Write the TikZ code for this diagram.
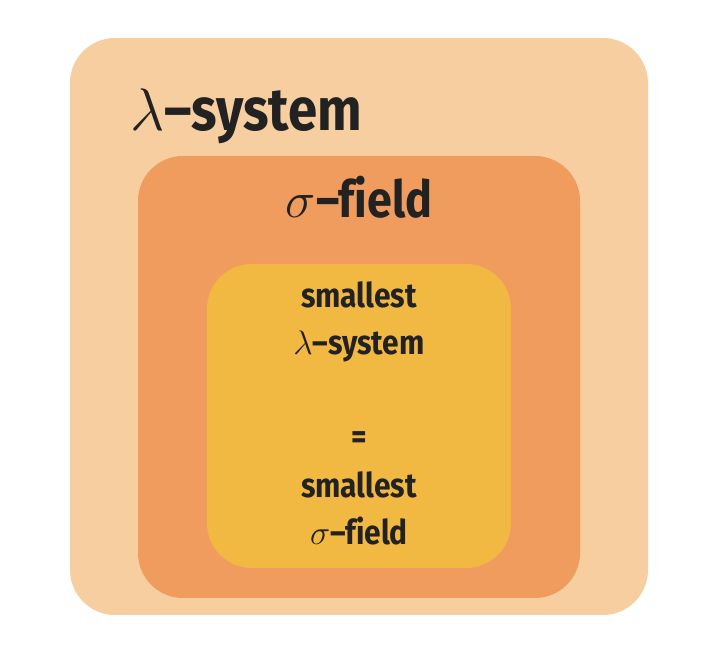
\documentclass[tikz,border=0pt]{standalone}
\usepackage{fix-cm}
\usepackage{fontspec}
\setmainfont[FakeStretch=0.88,Ligatures=NoCommon]{Fira Sans}
\usetikzlibrary{positioning}
\definecolor{outerc}{HTML}{F6CEA0}
\definecolor{midc}{HTML}{F09C5E}
\definecolor{innerc}{HTML}{F2B942}
\definecolor{txt}{HTML}{222222}
\tikzset{
  box/.style={rounded corners=45pt, draw=none},
  lbl/.style={text=txt, inner sep=0pt, font=\bfseries},
  small/.style={lbl, anchor=base, font=\bfseries\fontsize{34}{47}\selectfont},
}
\begin{document}
\begin{tikzpicture}[x=1pt,y=1pt]
\useasboundingbox (0,0) rectangle (716,664);
\fill[box, fill=outerc] (70,49) rectangle (648,626);
\fill[box, fill=midc] (138,66) rectangle (580,508);
\fill[box, fill=innerc] (207,96) rectangle (511,400);
\node[lbl, anchor=base west, font=\bfseries\fontsize{60}{66}\selectfont] (lam) at (130,533) {$\lambda$–system};
\node[lbl, anchor=base, font=\bfseries\fontsize{51}{56}\selectfont] (sig) at (359,446) {$\sigma$–field};
\node[small] (s1) at (359,356) {smallest};
\node[small] (s2) at (359,309) {$\lambda$–system};
\node[small] (eq) at (359,215) {=};
\node[small] (s3) at (359,166) {smallest};
\node[small] (s4) at (359,119) {$\sigma$–field};
\end{tikzpicture}
\end{document}
